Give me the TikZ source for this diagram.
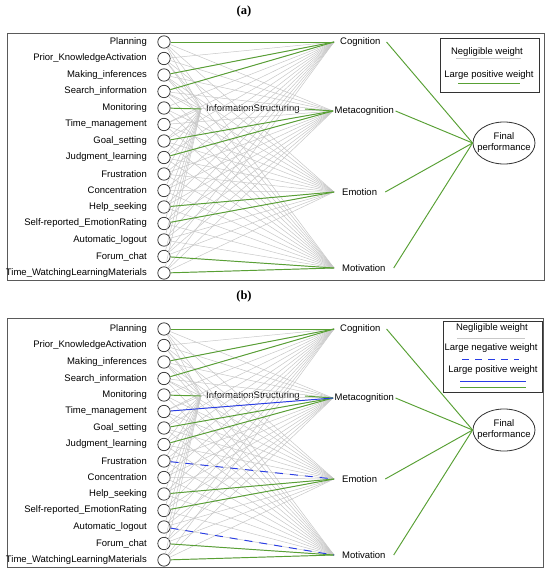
\documentclass[tikz,border=0pt]{standalone}
\usepackage{fontspec}
\setmainfont{Liberation Sans}
\newfontfamily\capfont{Liberation Serif}
\usetikzlibrary{shapes.geometric}
\definecolor{wgreen}{RGB}{88,160,52}
\definecolor{wgray}{RGB}{200,200,200}
\definecolor{wblue}{RGB}{40,60,230}
\definecolor{wframe}{RGB}{90,90,90}
\newcommand\myfs{\fontsize{9.5}{11}\selectfont}
\tikzset{
  inpnode/.style={circle,draw=black!80,line width=0.75pt,minimum size=12.4pt,inner sep=0pt},
  labnode/.style={anchor=east,inner sep=0pt,font=\myfs},
  outnode/.style={anchor=west,inner ysep=1pt,font=\myfs},
  txtnode/.style={inner sep=1pt,font=\myfs},
  negline/.style={draw=wgray,line width=0.5pt},
  posgreen/.style={draw=wgreen,line width=0.95pt},
  negdash/.style={draw=wblue,line width=0.95pt,dash pattern=on 8pt off 7pt},
  posblue/.style={draw=wblue,line width=0.95pt},
  legline/.style={line width=1.3pt},
  panelframe/.style={draw=wframe,line width=1.2pt},
  legbox/.style={draw=black!80,line width=0.9pt},
  captext/.style={font=\capfont\bfseries\fontsize{12.5}{14}\selectfont},
}
\newcommand\mypanel[2]{%
  \begin{scope}[yshift=-#2pt]
    \foreach \lab [count=\i] in {Planning,Prior\_KnowledgeActivation,Making\_inferences,Search\_information,Monitoring,Time\_management,Goal\_setting,Judgment\_learning,Frustration,Concentration,Help\_seeking,Self-reported\_EmotionRating,Automatic\_logout,Forum\_chat,Time\_WatchingLearningMaterials}{
      \node[inpnode] (#1c\i) at (164,{42+(\i-1)*16.5}) {};
      \node[labnode] (#1l\i) at (147,{42+(\i-1)*16.5}) {\lab};
    }
    \node[outnode,inner xsep=6pt] (#1cog) at (334,42) {Cognition};
    \node[outnode,inner xsep=1.5pt] (#1meta) at (333,111) {Metacognition};
    \node[outnode,inner xsep=8pt] (#1emo) at (334,192) {Emotion};
    \node[outnode,inner xsep=8pt] (#1mot) at (334,268) {Motivation};
    \node[outnode,inner xsep=5pt] (#1is) at (201,109) {InformationStructuring};
    \node[ellipse,draw=black!80,line width=0.8pt,minimum width=62pt,minimum height=42pt,inner sep=0pt] (#1fp) at (504,143) {};
    \node[txtnode,align=center] (#1fpt) at (504,143) {Final\\performance};
    \foreach \i in {1,...,15}{
      \foreach \o in {cog,meta,emo,mot}{\draw[negline] (#1c\i) -- (#1\o.west);}
      \draw[negline] (#1c\i) -- (#1is.west);
    }
    \draw[posgreen] (#1c1) -- (#1cog.west);
    \draw[posgreen] (#1c3) -- (#1cog.west);
    \draw[posgreen] (#1c4) -- (#1cog.west);
    \draw[posgreen] (#1c5) -- (#1is.west);
    \draw[posgreen] (#1is.east) -- (#1meta.west);
    \draw[posgreen] (#1c7) -- (#1meta.west);
    \draw[posgreen] (#1c8) -- (#1meta.west);
    \draw[posgreen] (#1c11) -- (#1emo.west);
    \draw[posgreen] (#1c12) -- (#1emo.west);
    \draw[posgreen] (#1c14) -- (#1mot.west);
    \draw[posgreen] (#1c15) -- (#1mot.west);
    \foreach \o in {cog,meta,emo,mot}{\draw[posgreen] (#1\o.east) -- (#1fp.west);}
  \end{scope}}
\begin{document}
\begin{tikzpicture}[x=1pt,y=-1pt]
  \useasboundingbox[fill=white] (0,0) rectangle (550,575);
  % panel (a)
  \node[captext] (capa) at (244,11) {(a)};
  \draw[panelframe] (7.5,33.5) rectangle (544.5,280.5);
  \mypanel{a}{0}
  \node[txtnode] (alg1) at (487,52) {Negligible weight};
  \node[txtnode] (alg2) at (489,75) {Large positive weight};
  \draw[legbox] (440.5,38.5) rectangle (539.5,92.5);
  \draw[legline,color=wgray] (456,58.5) -- (521,58.5);
  \draw[legline,color=wgreen] (458,83.5) -- (520,83.5);
  % panel (b)
  \node[captext] (capb) at (244,296) {(b)};
  \draw[panelframe] (7.5,318.5) rectangle (543.5,567.5);
  \mypanel{b}{287}
  \draw[posblue] (bc6) -- (bmeta.west);
  \draw[negdash] (bc9) -- (bemo.west);
  \draw[negdash] (bc13) -- (bmot.west);
  \node[txtnode] (blg1) at (492,328) {Negligible weight};
  \node[txtnode] (blg2) at (491,348) {Large negative weight};
  \node[txtnode] (blg3) at (493,370) {Large positive weight};
  \draw[legbox] (443.5,321.5) rectangle (542.5,392.5);
  \draw[legline,color=wgray] (457,338.5) -- (525,338.5);
  \draw[legline,color=wblue,dash pattern=on 7pt off 6pt] (462,359.5) -- (519,359.5);
  \draw[legline,color=wblue] (460,381.5) -- (526,381.5);
  \draw[legline,color=wgreen] (460,387.5) -- (526,387.5);
\end{tikzpicture}
\end{document}
